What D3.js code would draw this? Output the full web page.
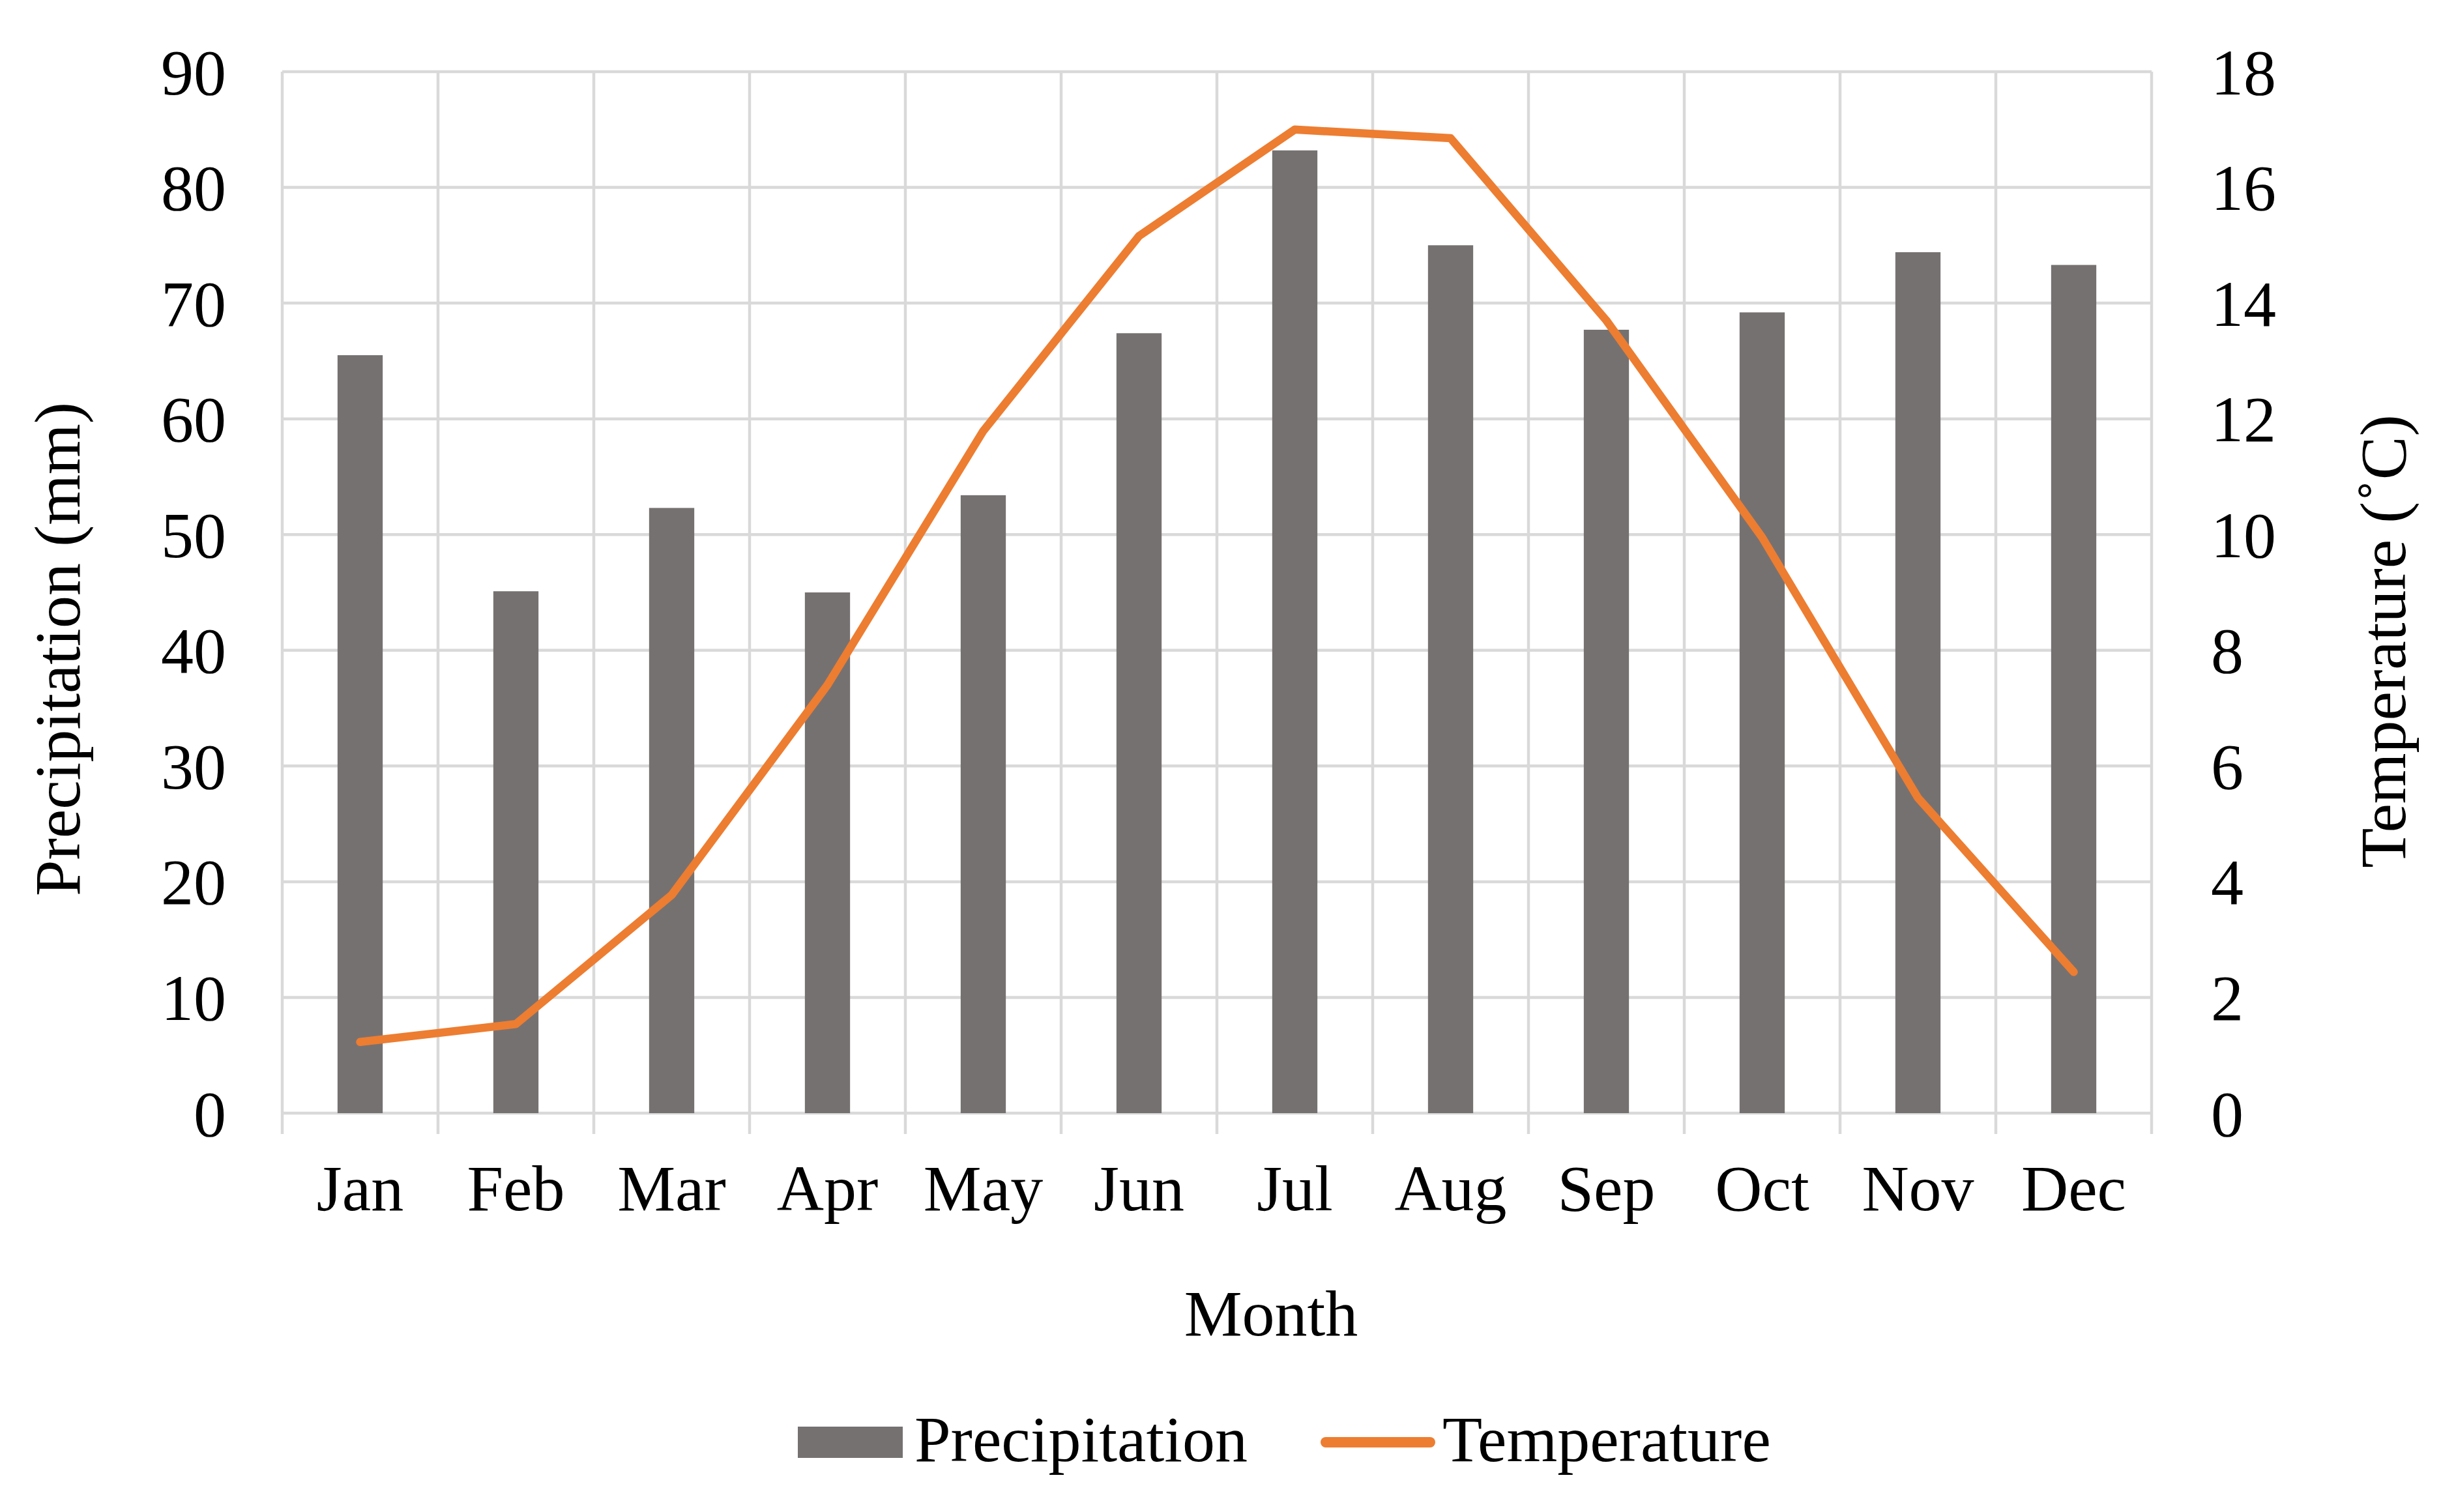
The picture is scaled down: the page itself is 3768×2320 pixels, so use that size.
<!DOCTYPE html>
<html lang="en">
<head>
    <meta charset="UTF-8">
    <title>Precipitation and Temperature</title>
    <script src="https://cdn.jsdelivr.net/npm/d3@7/dist/d3.min.js"></script>
    <style>
        body { margin: 0; background: #fff; }
        text { font-family: "Liberation Serif", "Times New Roman", serif; fill: #000; }
        .tick-label { font-size: 100px; }
        .axis-title { font-size: 100px; }
    </style>
</head>
<body>
    <svg width="3768" height="2320" id="chart"></svg>
    <script>
        // data
        const months = ["Jan", "Feb", "Mar", "Apr", "May", "Jun", "Jul", "Aug", "Sep", "Oct", "Nov", "Dec"];
        const precipitation = [65.5, 45.1, 52.3, 45.0, 53.4, 67.4, 83.2, 75.0, 67.7, 69.2, 74.4, 73.3];
        const temperature = [1.23, 1.54, 3.77, 7.4, 11.79, 15.16, 17.0, 16.85, 13.7, 9.95, 5.45, 2.44];
        const precipTicks = [0, 10, 20, 30, 40, 50, 60, 70, 80, 90];
        const tempTicks = [0, 2, 4, 6, 8, 10, 12, 14, 16, 18];

        const svg = d3.select("#chart");
        const margin = {left: 433, right: 3768 - 3301, top: 110, bottom: 2320 - 1708};
        const width = 3768 - margin.left - margin.right,
              height = 2320 - margin.top - margin.bottom;

        const gridColor = "#d9d9d9",
              barColor = "#767171",
              lineColor = "#ed7d31";

        const g = svg.append("g")
            .attr("transform", `translate(${margin.left},${margin.top})`);

        const x = d3.scaleBand().domain(months).range([0, width]).paddingInner(0).paddingOuter(0);
        const xEdge = d3.scaleLinear().domain([0, months.length]).range([0, width]);
        const yLeft = d3.scaleLinear().domain([0, 90]).range([height, 0]);
        const yRight = d3.scaleLinear().domain([0, 18]).range([height, 0]);

        // horizontal gridlines
        g.append("g")
            .selectAll("line")
            .data(precipTicks)
            .enter().append("line")
            .attr("x1", 0)
            .attr("x2", width)
            .attr("y1", d => yLeft(d))
            .attr("y2", d => yLeft(d))
            .attr("stroke", gridColor)
            .attr("stroke-width", 4.5);

        // vertical gridlines + tick marks below the axis
        g.append("g")
            .selectAll("line")
            .data(d3.range(months.length + 1))
            .enter().append("line")
            .attr("x1", d => xEdge(d))
            .attr("x2", d => xEdge(d))
            .attr("y1", 0)
            .attr("y2", height + 32)
            .attr("stroke", gridColor)
            .attr("stroke-width", 4.5);

        // bars
        const barW = x.bandwidth() * 0.29;
        g.append("g")
            .selectAll("rect")
            .data(precipitation)
            .enter().append("rect")
            .attr("x", (d, i) => x(months[i]) + (x.bandwidth() - barW) / 2)
            .attr("y", d => yLeft(d))
            .attr("width", barW)
            .attr("height", d => height - yLeft(d))
            .attr("fill", barColor);

        // temperature line
        const line = d3.line()
            .x((d, i) => x(months[i]) + x.bandwidth() / 2)
            .y(d => yRight(d));

        g.append("path")
            .datum(temperature)
            .attr("d", line)
            .attr("fill", "none")
            .attr("stroke", lineColor)
            .attr("stroke-width", 12.5)
            .attr("stroke-linejoin", "round")
            .attr("stroke-linecap", "round");

        // left axis labels
        const leftAxis = g.append("g")
            .call(d3.axisLeft(yLeft).tickValues(precipTicks).tickSize(0).tickPadding(86));
        leftAxis.select(".domain").remove();
        leftAxis.selectAll("text").attr("class", "tick-label").attr("dy", "0.34em");

        // right axis labels
        const rightAxis = g.append("g")
            .attr("transform", `translate(${width},0)`)
            .call(d3.axisRight(yRight).tickValues(tempTicks).tickSize(0).tickPadding(91));
        rightAxis.select(".domain").remove();
        rightAxis.selectAll("text").attr("class", "tick-label").attr("dy", "0.34em");

        // month labels
        const bottomAxis = g.append("g")
            .attr("transform", `translate(0,${height})`)
            .call(d3.axisBottom(x).tickSize(0));
        bottomAxis.select(".domain").remove();
        bottomAxis.selectAll("text")
            .attr("class", "tick-label")
            .attr("y", 149)
            .attr("dy", 0);

        // axis titles
        svg.append("text")
            .attr("class", "axis-title")
            .attr("transform", "translate(122,996) rotate(-90)")
            .attr("text-anchor", "middle")
            .text("Precipitation (mm)");

        svg.append("text")
            .attr("class", "axis-title")
            .attr("transform", "translate(3690,984) rotate(-90)")
            .attr("text-anchor", "middle")
            .text("Temperature (˚C)");

        svg.append("text")
            .attr("class", "axis-title")
            .attr("x", 1950)
            .attr("y", 2049)
            .attr("text-anchor", "middle")
            .text("Month");

        // legend
        const legend = svg.append("g");
        legend.append("rect")
            .attr("x", 1224)
            .attr("y", 2189)
            .attr("width", 161)
            .attr("height", 48)
            .attr("fill", barColor);
        legend.append("text")
            .attr("class", "axis-title")
            .attr("x", 1403)
            .attr("y", 2242)
            .text("Precipitation");
        legend.append("line")
            .attr("x1", 2034)
            .attr("x2", 2194)
            .attr("y1", 2213)
            .attr("y2", 2213)
            .attr("stroke", lineColor)
            .attr("stroke-width", 16)
            .attr("stroke-linecap", "round");
        legend.append("text")
            .attr("class", "axis-title")
            .attr("x", 2213)
            .attr("y", 2242)
            .text("Temperature");
    </script>
</body>
</html>
